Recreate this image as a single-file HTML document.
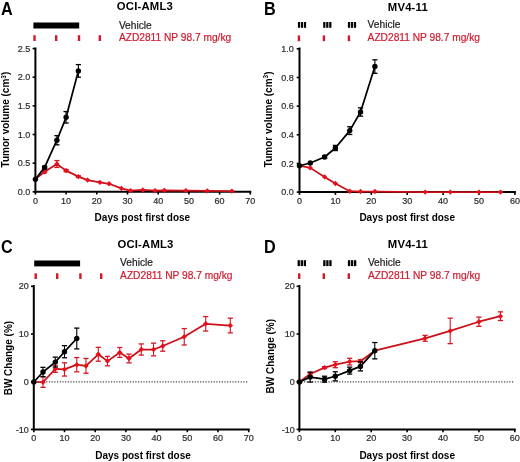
<!DOCTYPE html><html><head><meta charset="utf-8"><style>
html,body{margin:0;padding:0;background:#fff;width:520px;height:462px;overflow:hidden}
svg{display:block;will-change:transform}
svg text{font-family:"Liberation Sans", sans-serif}
.t{font-size:9px;fill:#2a2a2a;stroke:#2a2a2a;stroke-width:0.2px}
.b{font-size:10px;font-weight:bold;fill:#000}
.L{font-size:18px;font-weight:bold;fill:#000}
.T{font-size:11.3px;font-weight:bold;fill:#000;letter-spacing:0.2px}
.g{font-size:10.2px;fill:#1a1a1a;stroke:#1a1a1a;stroke-width:0.2px}
.r{font-size:10.2px;fill:#d01a2e;stroke:#d01a2e;stroke-width:0.2px}
</style></head><body>
<svg width="520" height="462" viewBox="0 0 520 462">
<line x1="32.7" y1="381.9" x2="248.3" y2="381.9" stroke="#444" stroke-width="1.3" stroke-dasharray="1.2 1.5"/>
<line x1="298.7" y1="381.9" x2="514.3" y2="381.9" stroke="#444" stroke-width="1.3" stroke-dasharray="1.2 1.5"/>
<line x1="35.4" y1="47.5" x2="35.4" y2="192.8" stroke="#000" stroke-width="2"/>
<line x1="34.4" y1="191.8" x2="251.3" y2="191.8" stroke="#000" stroke-width="2"/>
<line x1="32.6" y1="191.8" x2="35.4" y2="191.8" stroke="#000" stroke-width="1.6"/>
<text x="30.2" y="194.9" text-anchor="end" class="t">0.0</text>
<line x1="32.6" y1="163.15" x2="35.4" y2="163.15" stroke="#000" stroke-width="1.6"/>
<text x="30.2" y="166.25" text-anchor="end" class="t">0.5</text>
<line x1="32.6" y1="134.5" x2="35.4" y2="134.5" stroke="#000" stroke-width="1.6"/>
<text x="30.2" y="137.6" text-anchor="end" class="t">1.0</text>
<line x1="32.6" y1="105.85" x2="35.4" y2="105.85" stroke="#000" stroke-width="1.6"/>
<text x="30.2" y="108.95" text-anchor="end" class="t">1.5</text>
<line x1="32.6" y1="77.2" x2="35.4" y2="77.2" stroke="#000" stroke-width="1.6"/>
<text x="30.2" y="80.3" text-anchor="end" class="t">2.0</text>
<line x1="32.6" y1="48.55" x2="35.4" y2="48.55" stroke="#000" stroke-width="1.6"/>
<text x="30.2" y="51.65" text-anchor="end" class="t">2.5</text>
<line x1="35.4" y1="191.8" x2="35.4" y2="194.6" stroke="#000" stroke-width="1.6"/>
<text x="35.4" y="203.8" text-anchor="middle" class="t">0</text>
<line x1="66.1" y1="191.8" x2="66.1" y2="194.6" stroke="#000" stroke-width="1.6"/>
<text x="66.1" y="203.8" text-anchor="middle" class="t">10</text>
<line x1="96.8" y1="191.8" x2="96.8" y2="194.6" stroke="#000" stroke-width="1.6"/>
<text x="96.8" y="203.8" text-anchor="middle" class="t">20</text>
<line x1="127.5" y1="191.8" x2="127.5" y2="194.6" stroke="#000" stroke-width="1.6"/>
<text x="127.5" y="203.8" text-anchor="middle" class="t">30</text>
<line x1="158.2" y1="191.8" x2="158.2" y2="194.6" stroke="#000" stroke-width="1.6"/>
<text x="158.2" y="203.8" text-anchor="middle" class="t">40</text>
<line x1="188.9" y1="191.8" x2="188.9" y2="194.6" stroke="#000" stroke-width="1.6"/>
<text x="188.9" y="203.8" text-anchor="middle" class="t">50</text>
<line x1="219.6" y1="191.8" x2="219.6" y2="194.6" stroke="#000" stroke-width="1.6"/>
<text x="219.6" y="203.8" text-anchor="middle" class="t">60</text>
<line x1="250.3" y1="191.8" x2="250.3" y2="194.6" stroke="#000" stroke-width="1.6"/>
<text x="250.3" y="203.8" text-anchor="middle" class="t">70</text>
<text x="142.4" y="220.9" text-anchor="middle" class="b">Days post first dose</text>
<text transform="translate(9.4,119.6) rotate(-90)" text-anchor="middle" class="b">Tumor volume (cm<tspan font-size="6.5" dy="-3.5">3</tspan><tspan dy="3.5">)</tspan></text>
<text transform="translate(0.9,14.6) scale(0.9,1)" class="L">A</text>
<text x="116.8" y="10.1" class="T">OCI-AML3</text>
<rect x="33.4" y="22.5" width="45.8" height="6" fill="#000"/>
<rect x="33.3" y="35.2" width="2.4" height="5.8" fill="#d01a2e"/>
<rect x="55" y="35.2" width="2.4" height="5.8" fill="#d01a2e"/>
<rect x="77.8" y="35.2" width="2.4" height="5.8" fill="#d01a2e"/>
<rect x="98.6" y="35.2" width="2.4" height="5.8" fill="#d01a2e"/>
<text x="118.9" y="29" class="g">Vehicle</text>
<text x="118.9" y="41.4" class="r">AZD2811 NP 98.7 mg/kg</text>
<line x1="299.5" y1="47.5" x2="299.5" y2="193.1" stroke="#000" stroke-width="2"/>
<line x1="298.5" y1="192.1" x2="515.9" y2="192.1" stroke="#000" stroke-width="2"/>
<line x1="296.7" y1="192.1" x2="299.5" y2="192.1" stroke="#000" stroke-width="1.6"/>
<text x="293.8" y="195.2" text-anchor="end" class="t">0.0</text>
<line x1="296.7" y1="163.44" x2="299.5" y2="163.44" stroke="#000" stroke-width="1.6"/>
<text x="293.8" y="166.54" text-anchor="end" class="t">0.2</text>
<line x1="296.7" y1="134.78" x2="299.5" y2="134.78" stroke="#000" stroke-width="1.6"/>
<text x="293.8" y="137.88" text-anchor="end" class="t">0.4</text>
<line x1="296.7" y1="106.12" x2="299.5" y2="106.12" stroke="#000" stroke-width="1.6"/>
<text x="293.8" y="109.22" text-anchor="end" class="t">0.6</text>
<line x1="296.7" y1="77.46" x2="299.5" y2="77.46" stroke="#000" stroke-width="1.6"/>
<text x="293.8" y="80.56" text-anchor="end" class="t">0.8</text>
<line x1="296.7" y1="48.8" x2="299.5" y2="48.8" stroke="#000" stroke-width="1.6"/>
<text x="293.8" y="51.9" text-anchor="end" class="t">1.0</text>
<line x1="299.5" y1="192.1" x2="299.5" y2="194.9" stroke="#000" stroke-width="1.6"/>
<text x="299.5" y="203.8" text-anchor="middle" class="t">0</text>
<line x1="335.4" y1="192.1" x2="335.4" y2="194.9" stroke="#000" stroke-width="1.6"/>
<text x="335.4" y="203.8" text-anchor="middle" class="t">10</text>
<line x1="371.3" y1="192.1" x2="371.3" y2="194.9" stroke="#000" stroke-width="1.6"/>
<text x="371.3" y="203.8" text-anchor="middle" class="t">20</text>
<line x1="407.2" y1="192.1" x2="407.2" y2="194.9" stroke="#000" stroke-width="1.6"/>
<text x="407.2" y="203.8" text-anchor="middle" class="t">30</text>
<line x1="443.1" y1="192.1" x2="443.1" y2="194.9" stroke="#000" stroke-width="1.6"/>
<text x="443.1" y="203.8" text-anchor="middle" class="t">40</text>
<line x1="479" y1="192.1" x2="479" y2="194.9" stroke="#000" stroke-width="1.6"/>
<text x="479" y="203.8" text-anchor="middle" class="t">50</text>
<line x1="514.9" y1="192.1" x2="514.9" y2="194.9" stroke="#000" stroke-width="1.6"/>
<text x="514.9" y="203.8" text-anchor="middle" class="t">60</text>
<text x="407.2" y="220.9" text-anchor="middle" class="b">Days post first dose</text>
<text transform="translate(271.9,119.3) rotate(-90)" text-anchor="middle" class="b">Tumor volume (cm<tspan font-size="6.5" dy="-3.5">3</tspan><tspan dy="3.5">)</tspan></text>
<text transform="translate(263.9,14.7) scale(0.9,1)" class="L">B</text>
<text x="387.8" y="10.9" class="T">MV4-11</text>
<rect x="297.9" y="22" width="2.2" height="5.8" fill="#000"/>
<rect x="300.9" y="22" width="2.2" height="5.8" fill="#000"/>
<rect x="303.9" y="22" width="2.2" height="5.8" fill="#000"/>
<rect x="323.2" y="22" width="2.2" height="5.8" fill="#000"/>
<rect x="326.2" y="22" width="2.2" height="5.8" fill="#000"/>
<rect x="329.2" y="22" width="2.2" height="5.8" fill="#000"/>
<rect x="347.9" y="22" width="2.2" height="5.8" fill="#000"/>
<rect x="350.9" y="22" width="2.2" height="5.8" fill="#000"/>
<rect x="353.9" y="22" width="2.2" height="5.8" fill="#000"/>
<rect x="297.7" y="35.4" width="2.4" height="5.8" fill="#d01a2e"/>
<rect x="322.7" y="35.4" width="2.4" height="5.8" fill="#d01a2e"/>
<rect x="347.7" y="35.4" width="2.4" height="5.8" fill="#d01a2e"/>
<text x="367.6" y="28" class="g">Vehicle</text>
<text x="367.6" y="41.4" class="r">AZD2811 NP 98.7 mg/kg</text>
<line x1="33.8" y1="285" x2="33.8" y2="430.4" stroke="#000" stroke-width="2"/>
<line x1="32.8" y1="429.4" x2="249.7" y2="429.4" stroke="#000" stroke-width="2"/>
<line x1="31" y1="429.4" x2="33.8" y2="429.4" stroke="#000" stroke-width="1.6"/>
<text x="28.8" y="432.5" text-anchor="end" class="t">-10</text>
<line x1="31" y1="381.7" x2="33.8" y2="381.7" stroke="#000" stroke-width="1.6"/>
<text x="28.8" y="384.8" text-anchor="end" class="t">0</text>
<line x1="31" y1="334" x2="33.8" y2="334" stroke="#000" stroke-width="1.6"/>
<text x="28.8" y="337.1" text-anchor="end" class="t">10</text>
<line x1="31" y1="286.3" x2="33.8" y2="286.3" stroke="#000" stroke-width="1.6"/>
<text x="28.8" y="289.4" text-anchor="end" class="t">20</text>
<line x1="33.8" y1="429.4" x2="33.8" y2="432.2" stroke="#000" stroke-width="1.6"/>
<text x="33.8" y="441.3" text-anchor="middle" class="t">0</text>
<line x1="64.5" y1="429.4" x2="64.5" y2="432.2" stroke="#000" stroke-width="1.6"/>
<text x="64.5" y="441.3" text-anchor="middle" class="t">10</text>
<line x1="95.2" y1="429.4" x2="95.2" y2="432.2" stroke="#000" stroke-width="1.6"/>
<text x="95.2" y="441.3" text-anchor="middle" class="t">20</text>
<line x1="125.9" y1="429.4" x2="125.9" y2="432.2" stroke="#000" stroke-width="1.6"/>
<text x="125.9" y="441.3" text-anchor="middle" class="t">30</text>
<line x1="156.6" y1="429.4" x2="156.6" y2="432.2" stroke="#000" stroke-width="1.6"/>
<text x="156.6" y="441.3" text-anchor="middle" class="t">40</text>
<line x1="187.3" y1="429.4" x2="187.3" y2="432.2" stroke="#000" stroke-width="1.6"/>
<text x="187.3" y="441.3" text-anchor="middle" class="t">50</text>
<line x1="218" y1="429.4" x2="218" y2="432.2" stroke="#000" stroke-width="1.6"/>
<text x="218" y="441.3" text-anchor="middle" class="t">60</text>
<line x1="248.7" y1="429.4" x2="248.7" y2="432.2" stroke="#000" stroke-width="1.6"/>
<text x="248.7" y="441.3" text-anchor="middle" class="t">70</text>
<text x="143" y="458.6" text-anchor="middle" class="b">Days post first dose</text>
<text transform="translate(12.2,358.1) rotate(-90)" text-anchor="middle" class="b">BW Change (%)</text>
<text transform="translate(1,253.1) scale(0.9,1)" class="L">C</text>
<text x="117.4" y="248.3" class="T">OCI-AML3</text>
<rect x="34.2" y="260.5" width="45.9" height="5.9" fill="#000"/>
<rect x="34.5" y="273.3" width="2.4" height="5.7" fill="#d01a2e"/>
<rect x="56" y="273.3" width="2.4" height="5.7" fill="#d01a2e"/>
<rect x="79.2" y="273.3" width="2.4" height="5.7" fill="#d01a2e"/>
<rect x="100" y="273.3" width="2.4" height="5.7" fill="#d01a2e"/>
<text x="120.1" y="266.3" class="g">Vehicle</text>
<text x="120.1" y="279.4" class="r">AZD2811 NP 98.7 mg/kg</text>
<line x1="299.4" y1="285" x2="299.4" y2="430.4" stroke="#000" stroke-width="2"/>
<line x1="298.4" y1="429.4" x2="515.8" y2="429.4" stroke="#000" stroke-width="2"/>
<line x1="296.6" y1="429.4" x2="299.4" y2="429.4" stroke="#000" stroke-width="1.6"/>
<text x="294.8" y="432.5" text-anchor="end" class="t">-10</text>
<line x1="296.6" y1="381.7" x2="299.4" y2="381.7" stroke="#000" stroke-width="1.6"/>
<text x="294.8" y="384.8" text-anchor="end" class="t">0</text>
<line x1="296.6" y1="334" x2="299.4" y2="334" stroke="#000" stroke-width="1.6"/>
<text x="294.8" y="337.1" text-anchor="end" class="t">10</text>
<line x1="296.6" y1="286.3" x2="299.4" y2="286.3" stroke="#000" stroke-width="1.6"/>
<text x="294.8" y="289.4" text-anchor="end" class="t">20</text>
<line x1="299.4" y1="429.4" x2="299.4" y2="432.2" stroke="#000" stroke-width="1.6"/>
<text x="299.4" y="441.3" text-anchor="middle" class="t">0</text>
<line x1="335.3" y1="429.4" x2="335.3" y2="432.2" stroke="#000" stroke-width="1.6"/>
<text x="335.3" y="441.3" text-anchor="middle" class="t">10</text>
<line x1="371.2" y1="429.4" x2="371.2" y2="432.2" stroke="#000" stroke-width="1.6"/>
<text x="371.2" y="441.3" text-anchor="middle" class="t">20</text>
<line x1="407.1" y1="429.4" x2="407.1" y2="432.2" stroke="#000" stroke-width="1.6"/>
<text x="407.1" y="441.3" text-anchor="middle" class="t">30</text>
<line x1="443" y1="429.4" x2="443" y2="432.2" stroke="#000" stroke-width="1.6"/>
<text x="443" y="441.3" text-anchor="middle" class="t">40</text>
<line x1="478.9" y1="429.4" x2="478.9" y2="432.2" stroke="#000" stroke-width="1.6"/>
<text x="478.9" y="441.3" text-anchor="middle" class="t">50</text>
<line x1="514.8" y1="429.4" x2="514.8" y2="432.2" stroke="#000" stroke-width="1.6"/>
<text x="514.8" y="441.3" text-anchor="middle" class="t">60</text>
<text x="407.2" y="458.6" text-anchor="middle" class="b">Days post first dose</text>
<text transform="translate(273.6,356.2) rotate(-90)" text-anchor="middle" class="b">BW Change (%)</text>
<text transform="translate(263.9,253.1) scale(0.9,1)" class="L">D</text>
<text x="387.8" y="248.4" class="T">MV4-11</text>
<rect x="297.6" y="260.2" width="2.3" height="5.9" fill="#000"/>
<rect x="300.65" y="260.2" width="2.3" height="5.9" fill="#000"/>
<rect x="303.7" y="260.2" width="2.3" height="5.9" fill="#000"/>
<rect x="323.2" y="260.2" width="2.3" height="5.9" fill="#000"/>
<rect x="326.25" y="260.2" width="2.3" height="5.9" fill="#000"/>
<rect x="329.3" y="260.2" width="2.3" height="5.9" fill="#000"/>
<rect x="347.9" y="260.2" width="2.3" height="5.9" fill="#000"/>
<rect x="350.95" y="260.2" width="2.3" height="5.9" fill="#000"/>
<rect x="354" y="260.2" width="2.3" height="5.9" fill="#000"/>
<rect x="298" y="273.3" width="2.4" height="5.7" fill="#d01a2e"/>
<rect x="322.6" y="273.3" width="2.4" height="5.7" fill="#d01a2e"/>
<rect x="347.6" y="273.3" width="2.4" height="5.7" fill="#d01a2e"/>
<text x="367.9" y="265.8" class="g">Vehicle</text>
<text x="367.9" y="279.2" class="r">AZD2811 NP 98.7 mg/kg</text>
<line x1="44.61" y1="170.6" x2="44.61" y2="172.89" stroke="#d41622" stroke-width="1.1"/>
<line x1="42.01" y1="170.6" x2="47.21" y2="170.6" stroke="#d41622" stroke-width="1.3"/>
<line x1="42.01" y1="172.89" x2="47.21" y2="172.89" stroke="#d41622" stroke-width="1.3"/>
<line x1="56.89" y1="160.57" x2="56.89" y2="167.45" stroke="#d41622" stroke-width="1.1"/>
<line x1="54.29" y1="160.57" x2="59.49" y2="160.57" stroke="#d41622" stroke-width="1.3"/>
<line x1="54.29" y1="167.45" x2="59.49" y2="167.45" stroke="#d41622" stroke-width="1.3"/>
<line x1="66.1" y1="169.45" x2="66.1" y2="171.75" stroke="#d41622" stroke-width="1.1"/>
<line x1="63.5" y1="169.45" x2="68.7" y2="169.45" stroke="#d41622" stroke-width="1.3"/>
<line x1="63.5" y1="171.75" x2="68.7" y2="171.75" stroke="#d41622" stroke-width="1.3"/>
<line x1="78.38" y1="175.76" x2="78.38" y2="177.48" stroke="#d41622" stroke-width="1.1"/>
<line x1="75.78" y1="175.76" x2="80.98" y2="175.76" stroke="#d41622" stroke-width="1.3"/>
<line x1="75.78" y1="177.48" x2="80.98" y2="177.48" stroke="#d41622" stroke-width="1.3"/>
<polyline points="35.4,179.19 44.61,171.75 56.89,164.01 66.1,170.6 78.38,176.62 87.59,180.11 99.87,182.35 109.08,183.78 121.36,188.36 130.57,190.65 142.85,189.97 155.13,190.65 164.34,190.37 185.83,190.65 207.32,190.83 231.88,191.11" fill="none" stroke="#cc0f18" stroke-width="1.75" stroke-linejoin="round"/>
<path d="M35.4 176.49L38.1 179.19L35.4 181.89L32.7 179.19Z" fill="#e4101c"/>
<path d="M44.61 169.05L47.31 171.75L44.61 174.44L41.91 171.75Z" fill="#e4101c"/>
<path d="M56.89 161.31L59.59 164.01L56.89 166.71L54.19 164.01Z" fill="#e4101c"/>
<path d="M66.1 167.9L68.8 170.6L66.1 173.3L63.4 170.6Z" fill="#e4101c"/>
<path d="M78.38 173.92L81.08 176.62L78.38 179.32L75.68 176.62Z" fill="#e4101c"/>
<path d="M87.59 177.41L90.29 180.11L87.59 182.81L84.89 180.11Z" fill="#e4101c"/>
<path d="M99.87 179.65L102.57 182.35L99.87 185.05L97.17 182.35Z" fill="#e4101c"/>
<path d="M109.08 181.08L111.78 183.78L109.08 186.48L106.38 183.78Z" fill="#e4101c"/>
<path d="M121.36 185.66L124.06 188.36L121.36 191.06L118.66 188.36Z" fill="#e4101c"/>
<path d="M130.57 187.95L133.27 190.65L130.57 193.35L127.87 190.65Z" fill="#e4101c"/>
<path d="M142.85 187.27L145.55 189.97L142.85 192.67L140.15 189.97Z" fill="#e4101c"/>
<path d="M155.13 187.95L157.83 190.65L155.13 193.35L152.43 190.65Z" fill="#e4101c"/>
<path d="M164.34 187.67L167.04 190.37L164.34 193.07L161.64 190.37Z" fill="#e4101c"/>
<path d="M185.83 187.95L188.53 190.65L185.83 193.35L183.13 190.65Z" fill="#e4101c"/>
<path d="M207.32 188.13L210.02 190.83L207.32 193.53L204.62 190.83Z" fill="#e4101c"/>
<path d="M231.88 188.41L234.58 191.11L231.88 193.81L229.18 191.11Z" fill="#e4101c"/>
<line x1="44.61" y1="166.24" x2="44.61" y2="168.54" stroke="#000" stroke-width="1.1"/>
<line x1="42.01" y1="166.24" x2="47.21" y2="166.24" stroke="#000" stroke-width="1.3"/>
<line x1="42.01" y1="168.54" x2="47.21" y2="168.54" stroke="#000" stroke-width="1.3"/>
<line x1="56.89" y1="135.65" x2="56.89" y2="144.81" stroke="#000" stroke-width="1.1"/>
<line x1="54.29" y1="135.65" x2="59.49" y2="135.65" stroke="#000" stroke-width="1.3"/>
<line x1="54.29" y1="144.81" x2="59.49" y2="144.81" stroke="#000" stroke-width="1.3"/>
<line x1="66.1" y1="111.58" x2="66.1" y2="123.04" stroke="#000" stroke-width="1.1"/>
<line x1="63.5" y1="111.58" x2="68.7" y2="111.58" stroke="#000" stroke-width="1.3"/>
<line x1="63.5" y1="123.04" x2="68.7" y2="123.04" stroke="#000" stroke-width="1.3"/>
<line x1="78.38" y1="64.59" x2="78.38" y2="77.2" stroke="#000" stroke-width="1.1"/>
<line x1="75.78" y1="64.59" x2="80.98" y2="64.59" stroke="#000" stroke-width="1.3"/>
<line x1="75.78" y1="77.2" x2="80.98" y2="77.2" stroke="#000" stroke-width="1.3"/>
<polyline points="35.4,179.19 44.61,167.39 56.89,140.23 66.1,117.31 78.38,70.9" fill="none" stroke="#000" stroke-width="1.75" stroke-linejoin="round"/>
<circle cx="35.4" cy="179.19" r="2.7" fill="#000"/>
<circle cx="44.61" cy="167.39" r="2.7" fill="#000"/>
<circle cx="56.89" cy="140.23" r="2.7" fill="#000"/>
<circle cx="66.1" cy="117.31" r="2.7" fill="#000"/>
<circle cx="78.38" cy="70.9" r="2.7" fill="#000"/>
<polyline points="299.5,165.73 310.27,167.88 324.63,176.91 335.4,183.5 349.76,191.24 360.53,191.53 374.89,191.53 425.15,192.1 450.28,192.1 479,192.1 500.54,192.1" fill="none" stroke="#cc0f18" stroke-width="1.75" stroke-linejoin="round"/>
<path d="M299.5 163.03L302.2 165.73L299.5 168.43L296.8 165.73Z" fill="#e4101c"/>
<path d="M310.27 165.18L312.97 167.88L310.27 170.58L307.57 167.88Z" fill="#e4101c"/>
<path d="M324.63 174.21L327.33 176.91L324.63 179.61L321.93 176.91Z" fill="#e4101c"/>
<path d="M335.4 180.8L338.1 183.5L335.4 186.2L332.7 183.5Z" fill="#e4101c"/>
<path d="M349.76 188.54L352.46 191.24L349.76 193.94L347.06 191.24Z" fill="#e4101c"/>
<path d="M360.53 188.83L363.23 191.53L360.53 194.23L357.83 191.53Z" fill="#e4101c"/>
<path d="M374.89 188.83L377.59 191.53L374.89 194.23L372.19 191.53Z" fill="#e4101c"/>
<path d="M425.15 189.4L427.85 192.1L425.15 194.8L422.45 192.1Z" fill="#e4101c"/>
<path d="M450.28 189.4L452.98 192.1L450.28 194.8L447.58 192.1Z" fill="#e4101c"/>
<path d="M479 189.4L481.7 192.1L479 194.8L476.3 192.1Z" fill="#e4101c"/>
<path d="M500.54 189.4L503.24 192.1L500.54 194.8L497.84 192.1Z" fill="#e4101c"/>
<line x1="324.63" y1="155.56" x2="324.63" y2="158.42" stroke="#000" stroke-width="1.1"/>
<line x1="322.03" y1="155.56" x2="327.23" y2="155.56" stroke="#000" stroke-width="1.3"/>
<line x1="322.03" y1="158.42" x2="327.23" y2="158.42" stroke="#000" stroke-width="1.3"/>
<line x1="335.4" y1="145.38" x2="335.4" y2="150.54" stroke="#000" stroke-width="1.1"/>
<line x1="332.8" y1="145.38" x2="338" y2="145.38" stroke="#000" stroke-width="1.3"/>
<line x1="332.8" y1="150.54" x2="338" y2="150.54" stroke="#000" stroke-width="1.3"/>
<line x1="349.76" y1="126.76" x2="349.76" y2="134.49" stroke="#000" stroke-width="1.1"/>
<line x1="347.16" y1="126.76" x2="352.36" y2="126.76" stroke="#000" stroke-width="1.3"/>
<line x1="347.16" y1="134.49" x2="352.36" y2="134.49" stroke="#000" stroke-width="1.3"/>
<line x1="360.53" y1="107.84" x2="360.53" y2="116.15" stroke="#000" stroke-width="1.1"/>
<line x1="357.93" y1="107.84" x2="363.13" y2="107.84" stroke="#000" stroke-width="1.3"/>
<line x1="357.93" y1="116.15" x2="363.13" y2="116.15" stroke="#000" stroke-width="1.3"/>
<line x1="374.89" y1="59.83" x2="374.89" y2="73.3" stroke="#000" stroke-width="1.1"/>
<line x1="372.29" y1="59.83" x2="377.49" y2="59.83" stroke="#000" stroke-width="1.3"/>
<line x1="372.29" y1="73.3" x2="377.49" y2="73.3" stroke="#000" stroke-width="1.3"/>
<polyline points="299.5,165.73 310.27,163.01 324.63,156.99 335.4,147.96 349.76,130.62 360.53,112 374.89,66.57" fill="none" stroke="#000" stroke-width="1.75" stroke-linejoin="round"/>
<circle cx="299.5" cy="165.73" r="2.7" fill="#000"/>
<circle cx="310.27" cy="163.01" r="2.7" fill="#000"/>
<circle cx="324.63" cy="156.99" r="2.7" fill="#000"/>
<circle cx="335.4" cy="147.96" r="2.7" fill="#000"/>
<circle cx="349.76" cy="130.62" r="2.7" fill="#000"/>
<circle cx="360.53" cy="112" r="2.7" fill="#000"/>
<circle cx="374.89" cy="66.57" r="2.7" fill="#000"/>
<line x1="43.01" y1="376.94" x2="43.01" y2="387.34" stroke="#d41622" stroke-width="1.1"/>
<line x1="40.41" y1="376.94" x2="45.61" y2="376.94" stroke="#d41622" stroke-width="1.3"/>
<line x1="40.41" y1="387.34" x2="45.61" y2="387.34" stroke="#d41622" stroke-width="1.3"/>
<line x1="55.29" y1="365.64" x2="55.29" y2="372.32" stroke="#d41622" stroke-width="1.1"/>
<line x1="52.69" y1="365.64" x2="57.89" y2="365.64" stroke="#d41622" stroke-width="1.3"/>
<line x1="52.69" y1="372.32" x2="57.89" y2="372.32" stroke="#d41622" stroke-width="1.3"/>
<line x1="64.5" y1="362.78" x2="64.5" y2="376.04" stroke="#d41622" stroke-width="1.1"/>
<line x1="61.9" y1="362.78" x2="67.1" y2="362.78" stroke="#d41622" stroke-width="1.3"/>
<line x1="61.9" y1="376.04" x2="67.1" y2="376.04" stroke="#d41622" stroke-width="1.3"/>
<line x1="76.78" y1="357.53" x2="76.78" y2="371.84" stroke="#d41622" stroke-width="1.1"/>
<line x1="74.18" y1="357.53" x2="79.38" y2="357.53" stroke="#d41622" stroke-width="1.3"/>
<line x1="74.18" y1="371.84" x2="79.38" y2="371.84" stroke="#d41622" stroke-width="1.3"/>
<line x1="85.99" y1="358.53" x2="85.99" y2="373.22" stroke="#d41622" stroke-width="1.1"/>
<line x1="83.39" y1="358.53" x2="88.59" y2="358.53" stroke="#d41622" stroke-width="1.3"/>
<line x1="83.39" y1="373.22" x2="88.59" y2="373.22" stroke="#d41622" stroke-width="1.3"/>
<line x1="98.27" y1="347.37" x2="98.27" y2="361.2" stroke="#d41622" stroke-width="1.1"/>
<line x1="95.67" y1="347.37" x2="100.87" y2="347.37" stroke="#d41622" stroke-width="1.3"/>
<line x1="95.67" y1="361.2" x2="100.87" y2="361.2" stroke="#d41622" stroke-width="1.3"/>
<line x1="107.48" y1="356.39" x2="107.48" y2="365.83" stroke="#d41622" stroke-width="1.1"/>
<line x1="104.88" y1="356.39" x2="110.08" y2="356.39" stroke="#d41622" stroke-width="1.3"/>
<line x1="104.88" y1="365.83" x2="110.08" y2="365.83" stroke="#d41622" stroke-width="1.3"/>
<line x1="119.76" y1="347.47" x2="119.76" y2="357.39" stroke="#d41622" stroke-width="1.1"/>
<line x1="117.16" y1="347.47" x2="122.36" y2="347.47" stroke="#d41622" stroke-width="1.3"/>
<line x1="117.16" y1="357.39" x2="122.36" y2="357.39" stroke="#d41622" stroke-width="1.3"/>
<line x1="128.97" y1="354.14" x2="128.97" y2="362.82" stroke="#d41622" stroke-width="1.1"/>
<line x1="126.37" y1="354.14" x2="131.57" y2="354.14" stroke="#d41622" stroke-width="1.3"/>
<line x1="126.37" y1="362.82" x2="131.57" y2="362.82" stroke="#d41622" stroke-width="1.3"/>
<line x1="141.25" y1="343.94" x2="141.25" y2="355.1" stroke="#d41622" stroke-width="1.1"/>
<line x1="138.65" y1="343.94" x2="143.85" y2="343.94" stroke="#d41622" stroke-width="1.3"/>
<line x1="138.65" y1="355.1" x2="143.85" y2="355.1" stroke="#d41622" stroke-width="1.3"/>
<line x1="153.53" y1="343.17" x2="153.53" y2="355.86" stroke="#d41622" stroke-width="1.1"/>
<line x1="150.93" y1="343.17" x2="156.13" y2="343.17" stroke="#d41622" stroke-width="1.3"/>
<line x1="150.93" y1="355.86" x2="156.13" y2="355.86" stroke="#d41622" stroke-width="1.3"/>
<line x1="162.74" y1="340.79" x2="162.74" y2="351.19" stroke="#d41622" stroke-width="1.1"/>
<line x1="160.14" y1="340.79" x2="165.34" y2="340.79" stroke="#d41622" stroke-width="1.3"/>
<line x1="160.14" y1="351.19" x2="165.34" y2="351.19" stroke="#d41622" stroke-width="1.3"/>
<line x1="184.23" y1="328.58" x2="184.23" y2="344.98" stroke="#d41622" stroke-width="1.1"/>
<line x1="181.63" y1="328.58" x2="186.83" y2="328.58" stroke="#d41622" stroke-width="1.3"/>
<line x1="181.63" y1="344.98" x2="186.83" y2="344.98" stroke="#d41622" stroke-width="1.3"/>
<line x1="205.72" y1="316.56" x2="205.72" y2="331.06" stroke="#d41622" stroke-width="1.1"/>
<line x1="203.12" y1="316.56" x2="208.32" y2="316.56" stroke="#d41622" stroke-width="1.3"/>
<line x1="203.12" y1="331.06" x2="208.32" y2="331.06" stroke="#d41622" stroke-width="1.3"/>
<line x1="230.28" y1="318.18" x2="230.28" y2="332.87" stroke="#d41622" stroke-width="1.1"/>
<line x1="227.68" y1="318.18" x2="232.88" y2="318.18" stroke="#d41622" stroke-width="1.3"/>
<line x1="227.68" y1="332.87" x2="232.88" y2="332.87" stroke="#d41622" stroke-width="1.3"/>
<polyline points="33.8,382 43.01,382.14 55.29,368.98 64.5,369.41 76.78,364.68 85.99,365.88 98.27,354.29 107.48,361.11 119.76,352.43 128.97,358.48 141.25,349.52 153.53,349.52 162.74,345.99 184.23,336.78 205.72,323.81 230.28,325.52" fill="none" stroke="#cc0f18" stroke-width="1.75" stroke-linejoin="round"/>
<path d="M33.8 379.3L36.5 382L33.8 384.7L31.1 382Z" fill="#e4101c"/>
<path d="M43.01 379.44L45.71 382.14L43.01 384.84L40.31 382.14Z" fill="#e4101c"/>
<path d="M55.29 366.28L57.99 368.98L55.29 371.68L52.59 368.98Z" fill="#e4101c"/>
<path d="M64.5 366.71L67.2 369.41L64.5 372.11L61.8 369.41Z" fill="#e4101c"/>
<path d="M76.78 361.98L79.48 364.68L76.78 367.38L74.08 364.68Z" fill="#e4101c"/>
<path d="M85.99 363.18L88.69 365.88L85.99 368.58L83.29 365.88Z" fill="#e4101c"/>
<path d="M98.27 351.59L100.97 354.29L98.27 356.99L95.57 354.29Z" fill="#e4101c"/>
<path d="M107.48 358.41L110.18 361.11L107.48 363.81L104.78 361.11Z" fill="#e4101c"/>
<path d="M119.76 349.73L122.46 352.43L119.76 355.13L117.06 352.43Z" fill="#e4101c"/>
<path d="M128.97 355.78L131.67 358.48L128.97 361.18L126.27 358.48Z" fill="#e4101c"/>
<path d="M141.25 346.82L143.95 349.52L141.25 352.22L138.55 349.52Z" fill="#e4101c"/>
<path d="M153.53 346.82L156.23 349.52L153.53 352.22L150.83 349.52Z" fill="#e4101c"/>
<path d="M162.74 343.29L165.44 345.99L162.74 348.69L160.04 345.99Z" fill="#e4101c"/>
<path d="M184.23 334.08L186.93 336.78L184.23 339.48L181.53 336.78Z" fill="#e4101c"/>
<path d="M205.72 321.11L208.42 323.81L205.72 326.51L203.02 323.81Z" fill="#e4101c"/>
<path d="M230.28 322.82L232.98 325.52L230.28 328.22L227.58 325.52Z" fill="#e4101c"/>
<line x1="43.01" y1="367.36" x2="43.01" y2="376.61" stroke="#000" stroke-width="1.1"/>
<line x1="40.41" y1="367.36" x2="45.61" y2="367.36" stroke="#000" stroke-width="1.3"/>
<line x1="40.41" y1="376.61" x2="45.61" y2="376.61" stroke="#000" stroke-width="1.3"/>
<line x1="55.29" y1="357.15" x2="55.29" y2="367.07" stroke="#000" stroke-width="1.1"/>
<line x1="52.69" y1="357.15" x2="57.89" y2="357.15" stroke="#000" stroke-width="1.3"/>
<line x1="52.69" y1="367.07" x2="57.89" y2="367.07" stroke="#000" stroke-width="1.3"/>
<line x1="64.5" y1="345.65" x2="64.5" y2="357.77" stroke="#000" stroke-width="1.1"/>
<line x1="61.9" y1="345.65" x2="67.1" y2="345.65" stroke="#000" stroke-width="1.3"/>
<line x1="61.9" y1="357.77" x2="67.1" y2="357.77" stroke="#000" stroke-width="1.3"/>
<line x1="76.78" y1="328.1" x2="76.78" y2="348.9" stroke="#000" stroke-width="1.1"/>
<line x1="74.18" y1="328.1" x2="79.38" y2="328.1" stroke="#000" stroke-width="1.3"/>
<line x1="74.18" y1="348.9" x2="79.38" y2="348.9" stroke="#000" stroke-width="1.3"/>
<polyline points="33.8,382 43.01,371.98 55.29,362.11 64.5,351.71 76.78,338.5" fill="none" stroke="#000" stroke-width="1.75" stroke-linejoin="round"/>
<circle cx="33.8" cy="382" r="2.7" fill="#000"/>
<circle cx="43.01" cy="371.98" r="2.7" fill="#000"/>
<circle cx="55.29" cy="362.11" r="2.7" fill="#000"/>
<circle cx="64.5" cy="351.71" r="2.7" fill="#000"/>
<circle cx="76.78" cy="338.5" r="2.7" fill="#000"/>
<line x1="310.17" y1="372.29" x2="310.17" y2="375.75" stroke="#d41622" stroke-width="1.1"/>
<line x1="307.57" y1="372.29" x2="312.77" y2="372.29" stroke="#d41622" stroke-width="1.3"/>
<line x1="307.57" y1="375.75" x2="312.77" y2="375.75" stroke="#d41622" stroke-width="1.3"/>
<line x1="324.53" y1="366.62" x2="324.53" y2="368.54" stroke="#d41622" stroke-width="1.1"/>
<line x1="321.93" y1="366.62" x2="327.13" y2="366.62" stroke="#d41622" stroke-width="1.3"/>
<line x1="321.93" y1="368.54" x2="327.13" y2="368.54" stroke="#d41622" stroke-width="1.3"/>
<line x1="335.3" y1="361.71" x2="335.3" y2="367.68" stroke="#d41622" stroke-width="1.1"/>
<line x1="332.7" y1="361.71" x2="337.9" y2="361.71" stroke="#d41622" stroke-width="1.3"/>
<line x1="332.7" y1="367.68" x2="337.9" y2="367.68" stroke="#d41622" stroke-width="1.3"/>
<line x1="349.66" y1="358.3" x2="349.66" y2="364.94" stroke="#d41622" stroke-width="1.1"/>
<line x1="347.06" y1="358.3" x2="352.26" y2="358.3" stroke="#d41622" stroke-width="1.3"/>
<line x1="347.06" y1="364.94" x2="352.26" y2="364.94" stroke="#d41622" stroke-width="1.3"/>
<line x1="360.43" y1="359.74" x2="360.43" y2="362.63" stroke="#d41622" stroke-width="1.1"/>
<line x1="357.83" y1="359.74" x2="363.03" y2="359.74" stroke="#d41622" stroke-width="1.3"/>
<line x1="357.83" y1="362.63" x2="363.03" y2="362.63" stroke="#d41622" stroke-width="1.3"/>
<line x1="425.05" y1="335.37" x2="425.05" y2="341.24" stroke="#d41622" stroke-width="1.1"/>
<line x1="422.45" y1="335.37" x2="427.65" y2="335.37" stroke="#d41622" stroke-width="1.3"/>
<line x1="422.45" y1="341.24" x2="427.65" y2="341.24" stroke="#d41622" stroke-width="1.3"/>
<line x1="450.18" y1="318.16" x2="450.18" y2="343.64" stroke="#d41622" stroke-width="1.1"/>
<line x1="447.58" y1="318.16" x2="452.78" y2="318.16" stroke="#d41622" stroke-width="1.3"/>
<line x1="447.58" y1="343.64" x2="452.78" y2="343.64" stroke="#d41622" stroke-width="1.3"/>
<line x1="478.9" y1="317.11" x2="478.9" y2="326.33" stroke="#d41622" stroke-width="1.1"/>
<line x1="476.3" y1="317.11" x2="481.5" y2="317.11" stroke="#d41622" stroke-width="1.3"/>
<line x1="476.3" y1="326.33" x2="481.5" y2="326.33" stroke="#d41622" stroke-width="1.3"/>
<line x1="500.44" y1="311.87" x2="500.44" y2="320.52" stroke="#d41622" stroke-width="1.1"/>
<line x1="497.84" y1="311.87" x2="503.04" y2="311.87" stroke="#d41622" stroke-width="1.3"/>
<line x1="497.84" y1="320.52" x2="503.04" y2="320.52" stroke="#d41622" stroke-width="1.3"/>
<polyline points="299.4,382 310.17,374.02 324.53,367.58 335.3,364.69 349.66,361.62 360.43,361.19 374.79,350.71 425.05,338.3 450.18,330.9 478.9,321.72 500.44,316.19" fill="none" stroke="#cc0f18" stroke-width="1.75" stroke-linejoin="round"/>
<path d="M299.4 379.3L302.1 382L299.4 384.7L296.7 382Z" fill="#e4101c"/>
<path d="M310.17 371.32L312.87 374.02L310.17 376.72L307.47 374.02Z" fill="#e4101c"/>
<path d="M324.53 364.88L327.23 367.58L324.53 370.28L321.83 367.58Z" fill="#e4101c"/>
<path d="M335.3 361.99L338 364.69L335.3 367.39L332.6 364.69Z" fill="#e4101c"/>
<path d="M349.66 358.92L352.36 361.62L349.66 364.32L346.96 361.62Z" fill="#e4101c"/>
<path d="M360.43 358.49L363.13 361.19L360.43 363.89L357.73 361.19Z" fill="#e4101c"/>
<path d="M374.79 348.01L377.49 350.71L374.79 353.41L372.09 350.71Z" fill="#e4101c"/>
<path d="M425.05 335.6L427.75 338.3L425.05 341L422.35 338.3Z" fill="#e4101c"/>
<path d="M450.18 328.2L452.88 330.9L450.18 333.6L447.48 330.9Z" fill="#e4101c"/>
<path d="M478.9 319.02L481.6 321.72L478.9 324.42L476.2 321.72Z" fill="#e4101c"/>
<path d="M500.44 313.49L503.14 316.19L500.44 318.89L497.74 316.19Z" fill="#e4101c"/>
<line x1="310.17" y1="372.15" x2="310.17" y2="382.05" stroke="#000" stroke-width="1.1"/>
<line x1="307.57" y1="372.15" x2="312.77" y2="372.15" stroke="#000" stroke-width="1.3"/>
<line x1="307.57" y1="382.05" x2="312.77" y2="382.05" stroke="#000" stroke-width="1.3"/>
<line x1="324.53" y1="376.23" x2="324.53" y2="382.19" stroke="#000" stroke-width="1.1"/>
<line x1="321.93" y1="376.23" x2="327.13" y2="376.23" stroke="#000" stroke-width="1.3"/>
<line x1="321.93" y1="382.19" x2="327.13" y2="382.19" stroke="#000" stroke-width="1.3"/>
<line x1="335.3" y1="371.76" x2="335.3" y2="380.8" stroke="#000" stroke-width="1.1"/>
<line x1="332.7" y1="371.76" x2="337.9" y2="371.76" stroke="#000" stroke-width="1.3"/>
<line x1="332.7" y1="380.8" x2="337.9" y2="380.8" stroke="#000" stroke-width="1.3"/>
<line x1="349.66" y1="367.15" x2="349.66" y2="374.07" stroke="#000" stroke-width="1.1"/>
<line x1="347.06" y1="367.15" x2="352.26" y2="367.15" stroke="#000" stroke-width="1.3"/>
<line x1="347.06" y1="374.07" x2="352.26" y2="374.07" stroke="#000" stroke-width="1.3"/>
<line x1="360.43" y1="361.86" x2="360.43" y2="370.9" stroke="#000" stroke-width="1.1"/>
<line x1="357.83" y1="361.86" x2="363.03" y2="361.86" stroke="#000" stroke-width="1.3"/>
<line x1="357.83" y1="370.9" x2="363.03" y2="370.9" stroke="#000" stroke-width="1.3"/>
<line x1="374.79" y1="342.53" x2="374.79" y2="358.88" stroke="#000" stroke-width="1.1"/>
<line x1="372.19" y1="342.53" x2="377.39" y2="342.53" stroke="#000" stroke-width="1.3"/>
<line x1="372.19" y1="358.88" x2="377.39" y2="358.88" stroke="#000" stroke-width="1.3"/>
<polyline points="299.4,382 310.17,377.1 324.53,379.21 335.3,376.28 349.66,370.61 360.43,366.38 374.79,350.71" fill="none" stroke="#000" stroke-width="1.75" stroke-linejoin="round"/>
<circle cx="299.4" cy="382" r="2.7" fill="#000"/>
<circle cx="310.17" cy="377.1" r="2.7" fill="#000"/>
<circle cx="324.53" cy="379.21" r="2.7" fill="#000"/>
<circle cx="335.3" cy="376.28" r="2.7" fill="#000"/>
<circle cx="349.66" cy="370.61" r="2.7" fill="#000"/>
<circle cx="360.43" cy="366.38" r="2.7" fill="#000"/>
<circle cx="374.79" cy="350.71" r="2.7" fill="#000"/>
</svg></body></html>
